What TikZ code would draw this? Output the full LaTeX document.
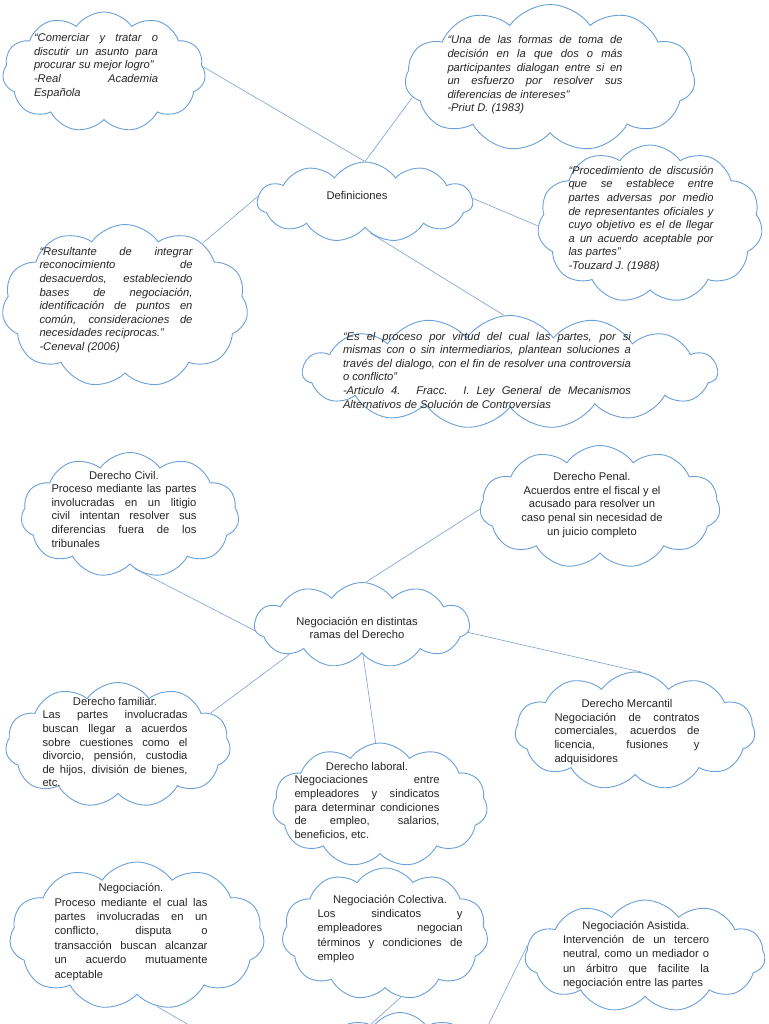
\documentclass[tikz,border=0pt]{standalone}
\usepackage{fontspec}
\setmainfont{Liberation Sans}
\usetikzlibrary{shapes.symbols}
\definecolor{nubeazul}{RGB}{105,160,218}
\definecolor{lineazul}{RGB}{120,160,210}
\setlength{\parindent}{0pt}
\tolerance=9999 \hbadness=10000 \hyphenpenalty=10000

\begin{document}
\begin{tikzpicture}[x=1pt,y=-1pt]

    \tikzset{
      Nube/.style = { cloud, draw=nubeazul, line width=0.9pt, cloud puffs=11,
                      cloud puff arc=110, cloud ignores aspect, inner sep=0pt },
      Cita/.style = { inner sep=0pt, text=black!85, align=justify,
                      font=\fontsize{11.2}{13.6}\selectfont\itshape },
      Texto/.style = { inner sep=0pt, text=black!85, align=justify,
                      font=\fontsize{11.2}{13.6}\selectfont },
      Abajo/.style = { Texto, font=\fontsize{11.2}{14.4}\selectfont },
      Enlace/.style = { draw=lineazul, line width=0.6pt } }

      \fill[white] (0,0) rectangle (768,1024);
      \useasboundingbox (0,0) rectangle (768,1024);

      % definiciones
      \node[Nube, minimum width=203pt, minimum height=120pt] (comer) at (104,72) {};
      \node[Nube, minimum width=290pt, minimum height=147pt] (una) at (550,78) {};
      \node[Nube, minimum width=215pt, minimum height=80pt] (defs) at (365,202) {};
      \node[Nube, minimum width=225pt, minimum height=158pt] (proc) at (650,224) {};
      \node[Nube, minimum width=246pt, minimum height=163pt] (result) at (125,306) {};
      \node[Nube, cloud puffs=15, minimum width=415pt, minimum height=113pt] (proceso) at (510,372) {};

      \node[Cita, text width=124pt] (comer-t) at (96,66)
        {“Comerciar y tratar o\linebreak discutir un asunto para\linebreak
         procurar su mejor logro”\par -Real Academia\linebreak Española};
      \node[Cita, text width=175pt] (una-t) at (535,75)
        {“Una de las formas de toma de\linebreak decisión en la que dos o más\linebreak
         participantes dialogan entre si en\linebreak un esfuerzo por resolver sus\linebreak
         diferencias de intereses”\par -Priut D. (1983)};
      \node[Texto] (defs-t) at (357,195) {Definiciones};
      \node[Cita, text width=145pt] (proc-t) at (641,219)
        {“Procedimiento de discusión\linebreak que se establece entre\linebreak
         partes adversas por medio\linebreak de representantes oficiales y\linebreak
         cuyo objetivo es el de llegar\linebreak a un acuerdo aceptable por\linebreak
         las partes”\par -Touzard J. (1988)};
      \node[Cita, text width=153pt] (result-t) at (116,300)
        {“Resultante de integrar\linebreak reconocimiento de\linebreak
         desacuerdos, estableciendo\linebreak bases de negociación,\linebreak
         identificación de puntos en\linebreak común, consideraciones de\linebreak
         necesidades reciprocas.”\par -Ceneval (2006)};
      \node[Cita, text width=288pt] (proceso-t) at (487,370)
        {“Es el proceso por virtud del cual las partes, por si\linebreak
         mismas con o sin intermediarios, plantean soluciones a\linebreak
         través del dialogo, con el fin de resolver una controversia\linebreak
         o conflicto”\par -Articulo 4. Fracc. I. Ley General de Mecanismos\linebreak
         Alternativos de Solución de Controversias};

      \draw[Enlace] (comer.3) -- (defs.90);
      \draw[Enlace] (una.188) -- (defs.90);
      \draw[Enlace] (defs.2) -- (proc.181);
      \draw[Enlace] (defs.177) -- (result.39);
      \draw[Enlace] (defs.280) -- (proceso.96);

      % ramas del derecho
      \node[Nube, minimum width=218pt, minimum height=125pt] (civil) at (130,515) {};
      \node[Nube, minimum width=240pt, minimum height=123pt] (penal) at (600,507) {};
      \node[Nube, minimum width=215pt, minimum height=85pt] (ramas) at (362,625) {};
      \node[Nube, minimum width=225pt, minimum height=125pt] (familiar) at (118,745) {};
      \node[Nube, minimum width=215pt, minimum height=124pt] (laboral) at (380,805) {};
      \node[Nube, minimum width=240pt, minimum height=118pt] (merc) at (635,731) {};

      \node[Texto, text width=145pt] (civil-t) at (124,509)
        {{\centering Derecho Civil.\par}
         Proceso mediante las partes\linebreak involucradas en un litigio\linebreak
         civil intentan resolver sus\linebreak diferencias fuera de los\linebreak
         tribunales};
      \node[Texto, align=center] (penal-t) at (592,505)
        {Derecho Penal.\\ Acuerdos entre el fiscal y el\\ acusado para resolver un\\
         caso penal sin necesidad de\\ un juicio completo};
      \node[Texto, align=center] (ramas-t) at (357,628)
        {Negociación en distintas\\ ramas del Derecho};
      \node[Texto, text width=145pt] (familiar-t) at (115,742)
        {{\centering Derecho familiar.\par}
         Las partes involucradas\linebreak buscan llegar a acuerdos\linebreak
         sobre cuestiones como el\linebreak divorcio, pensión, custodia\linebreak
         de hijos, división de bienes,\linebreak etc.};
      \node[Texto, text width=145pt] (laboral-t) at (367,801)
        {{\centering Derecho laboral.\par}
         Negociaciones entre\linebreak empleadores y sindicatos\linebreak
         para determinar condiciones\linebreak de empleo, salarios,\linebreak
         beneficios, etc.};
      \node[Texto, text width=145pt] (merc-t) at (627,732)
        {{\centering Derecho Mercantil\par}
         Negociación de contratos\linebreak comerciales, acuerdos de\linebreak
         licencia, fusiones y\linebreak adquisidores};

      \draw[Enlace] (civil.275) -- (ramas.183);
      \draw[Enlace] (penal.181) -- (ramas.85);
      \draw[Enlace] (ramas.202) -- (familiar.19);
      \draw[Enlace] (ramas.272) -- (laboral.94);
      \draw[Enlace] (ramas.356) -- (merc.84);

      % tipos de negociacion
      \node[Nube, minimum width=255pt, minimum height=148pt] (nego) at (137,936) {};
      \node[Nube, minimum width=206pt, minimum height=132pt] (colect) at (385,934) {};
      \node[Nube, minimum width=240pt, minimum height=112pt] (asist) at (645,956) {};
      \node[Nube, minimum width=200pt, minimum height=155pt] (abajo) at (400,1090) {};

      \node[Abajo, text width=153pt] (nego-t) at (131,932)
        {{\centering Negociación.\par}
         Proceso mediante el cual las\linebreak partes involucradas en un\linebreak
         conflicto, disputa o\linebreak transacción buscan alcanzar\linebreak
         un acuerdo mutuamente\linebreak aceptable};
      \node[Abajo, text width=145pt] (colect-t) at (390,929)
        {{\centering Negociación Colectiva.\par}
         Los sindicatos y\linebreak empleadores negocian\linebreak
         términos y condiciones de\linebreak empleo};
      \node[Abajo, text width=146pt] (asist-t) at (636,955)
        {{\centering Negociación Asistida.\par}
         Intervención de un tercero\linebreak neutral, como un mediador o\linebreak
         un árbitro que facilite la\linebreak negociación entre las partes};

      \draw[Enlace] (nego.286) -- (abajo.180);
      \draw[Enlace] (colect.284) -- (abajo.114);
      \draw[Enlace] (asist.175) -- (abajo.29);

\end{tikzpicture}
\end{document}
